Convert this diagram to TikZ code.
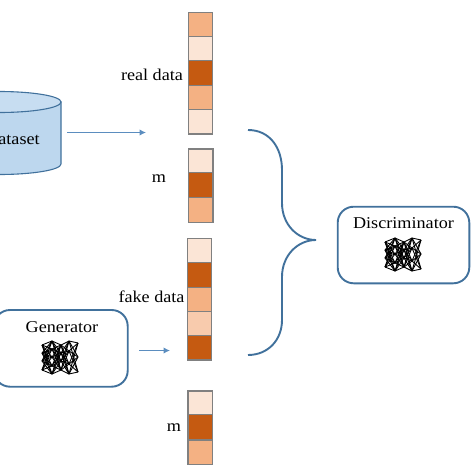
\documentclass[tikz,border=0pt]{standalone}
\usepackage{fontspec}
\setmainfont[FakeStretch=1.1]{Liberation Serif}
\definecolor{cl}{HTML}{FBE5D6}
\definecolor{cm}{HTML}{F4B183}
\definecolor{cp}{HTML}{F8CBAD}
\definecolor{cd}{HTML}{C55A11}
\definecolor{bl}{HTML}{41719C}
\definecolor{ar}{HTML}{5B8DBF}
\definecolor{cy}{HTML}{BDD7EE}
\usetikzlibrary{arrows.meta}
\tikzset{
 x=1pt,y=-1pt,
 cell/.style={draw=black!50,line width=1.1pt},
 lab/.style={font=\fontsize{16.5}{19}\selectfont,inner sep=0pt,text=black},
 boxx/.style={draw=bl,line width=1.9pt,rounded corners=16pt,fill=white},
 flow/.style={draw=ar,line width=1.9pt,-{Latex[length=6.5pt,width=6.5pt]}},
 netl/.style={line width=.9pt,black},
}
\newcommand{\cellstrip}[2]{% x-left, list
 \foreach \ya/\yb/\c in {#2}{\draw[cell,fill=\c] (#1,\ya) rectangle ++(24.3,\yb-\ya);}}
\newcommand{\netw}[2]{% top-left corner of 36x33 net
 \begin{scope}[shift={(#1,#2)}]
 \foreach \ya in {4,12,20,29}{\foreach \yb in {0,8,16,25,33}{\draw[netl] (0,\ya)--(10,\yb);}}
 \foreach \ya in {0,8,16,25,33}{\foreach \yb in {4,12,20,29}{\draw[netl] (10,\ya)--(19,\yb);}}
 \foreach \ya in {4,12,20,29}{\foreach \yb in {0,10,23,33}{\draw[netl] (19,\ya)--(27,\yb);}}
 \foreach \ya in {0,10,23,33}{\foreach \yb in {2,16,31}{\draw[netl] (27,\ya)--(36,\yb);}}
 \end{scope}}
\begin{document}
\begin{tikzpicture}
\useasboundingbox (0,0) rectangle (474,474);
\clip (0,0) rectangle (474,474);
% dataset cylinder
\path[draw=bl,line width=1.1pt,fill=cy] (-63,102) -- (-63,164) arc[start angle=180,end angle=0,x radius=62,y radius=10.5] -- (61,102) -- cycle;
\path[draw=bl,line width=1.1pt,fill=cy!85!white] (-1,102) ellipse[x radius=62,y radius=10.5];
\node[lab] (dataset) at (12.5,139.5) {Dataset};
% strips
\cellstrip{188.2}{12.3/36.3/cm,36.3/60.7/cl,60.7/85.7/cd,85.7/109.3/cm,109.3/134/cl}
\cellstrip{188.7}{149/172.7/cl,172.7/197.7/cd,197.7/222.3/cm}
\cellstrip{187.4}{238.3/262.7/cl,262.7/287.3/cd,287.3/311.7/cm,311.7/335.7/cp,335.7/360/cd}
\cellstrip{188}{391/414.3/cl,414.3/440/cd,440/464.3/cm}
% labels
\node[lab] (real) at (152,74.5) {real data};
\node[lab] (m1) at (159,179) {m};
\node[lab] (fake) at (151.5,296.5) {fake data};
\node[lab] (m2) at (174,428) {m};
% boxes
\draw[boxx] (-6,310) rectangle (127.7,386.7);
\node[lab] (gen) at (62,327.5) {Generator};
\netw{42}{341}
\draw[boxx] (337.7,206.7) rectangle (469.3,283.3);
\node[lab] (disc) at (403.5,223.5) {Discriminator};
\netw{385}{238}
% arrows
\coordinate (a1) at (67,132.5); \coordinate (a2) at (146,132.5);
\coordinate (b1) at (139,350.5); \coordinate (b2) at (170,350.5);
\draw[flow] (a1)--(a2);
\draw[flow] (b1)--(b2);
% brace
\coordinate (bt) at (248,130); \coordinate (bb) at (248,355); \coordinate (tip) at (316,240);
\draw[bl,line width=1.9pt] (bt) .. controls (270,130) and (282,148) .. (282,170)
 -- (282,203) .. controls (282,225) and (298,240) .. (tip)
 .. controls (298,240) and (282,255) .. (282,277)
 -- (282,320) .. controls (282,340) and (268,355) .. (bb);
\end{tikzpicture}
\end{document}
